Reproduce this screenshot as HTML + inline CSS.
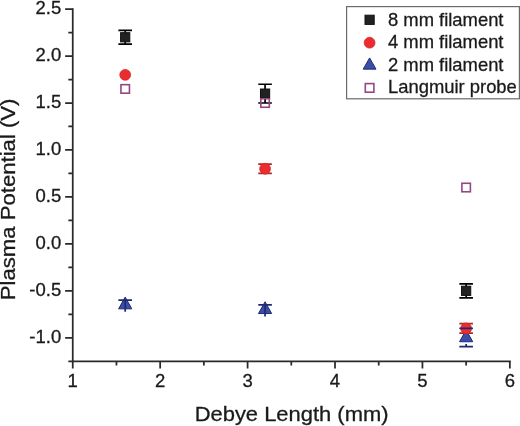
<!DOCTYPE html>
<html><head><meta charset="utf-8"><style>
html,body{margin:0;padding:0;background:#fff;}
body{width:520px;height:426px;overflow:hidden;}
svg{display:block;}
text{font-family:"Liberation Sans",Arial,sans-serif;fill:#1a1a1a;stroke:#1a1a1a;stroke-width:0.3px;}
</style></head><body>
<svg width="520" height="426" viewBox="0 0 520 426">
<path d="M72.75 8.2V361.2625H510.75" fill="none" stroke="#2a2a2a" stroke-width="1.75" stroke-linejoin="miter"/>
<path d="M65.15 9.10H72.75M65.15 56.05H72.75M65.15 103.01H72.75M65.15 149.97H72.75M65.15 196.92H72.75M65.15 243.87H72.75M65.15 290.83H72.75M65.15 337.79H72.75M68.35 32.58H72.75M68.35 79.53H72.75M68.35 126.49H72.75M68.35 173.44H72.75M68.35 220.40H72.75M68.35 267.35H72.75M68.35 314.31H72.75M68.35 361.26H72.75M72.75 361.2625V368.4625M160.17 361.2625V368.4625M247.59 361.2625V368.4625M335.01 361.2625V368.4625M422.43 361.2625V368.4625M509.85 361.2625V368.4625M116.46 361.2625V365.4625M203.88 361.2625V365.4625M291.30 361.2625V365.4625M378.72 361.2625V365.4625M466.14 361.2625V365.4625" fill="none" stroke="#2a2a2a" stroke-width="1.75"/>
<text x="61.2" y="14.10" text-anchor="end" font-size="18.5">2.5</text>
<text x="61.2" y="61.05" text-anchor="end" font-size="18.5">2.0</text>
<text x="61.2" y="108.01" text-anchor="end" font-size="18.5">1.5</text>
<text x="61.2" y="154.97" text-anchor="end" font-size="18.5">1.0</text>
<text x="61.2" y="201.92" text-anchor="end" font-size="18.5">0.5</text>
<text x="61.2" y="248.87" text-anchor="end" font-size="18.5">0.0</text>
<text x="61.2" y="295.83" text-anchor="end" font-size="18.5">-0.5</text>
<text x="61.2" y="342.79" text-anchor="end" font-size="18.5">-1.0</text>
<text x="72.75" y="387.3" text-anchor="middle" font-size="18.5">1</text>
<text x="160.17" y="387.3" text-anchor="middle" font-size="18.5">2</text>
<text x="247.59" y="387.3" text-anchor="middle" font-size="18.5">3</text>
<text x="335.01" y="387.3" text-anchor="middle" font-size="18.5">4</text>
<text x="422.43" y="387.3" text-anchor="middle" font-size="18.5">5</text>
<text x="509.85" y="387.3" text-anchor="middle" font-size="18.5">6</text>
<text x="291.6" y="420.6" text-anchor="middle" font-size="21" textLength="193.9" lengthAdjust="spacingAndGlyphs">Debye Length (mm)</text>
<text transform="translate(15.2 199.4) rotate(-90)" x="0" y="0" text-anchor="middle" font-size="21" textLength="201.8" lengthAdjust="spacingAndGlyphs">Plasma Potential (V)</text>
<path d="M125.20 30.42V44.13M118.40 30.42h13.6M118.40 44.13h13.6" fill="none" stroke="#000" stroke-width="1.7"/>
<path d="M265.07 84.23V103.01M258.27 84.23h13.6M258.27 103.01h13.6" fill="none" stroke="#000" stroke-width="1.7"/>
<path d="M466.14 283.79V297.87M459.34 283.79h13.6M459.34 297.87h13.6" fill="none" stroke="#000" stroke-width="1.7"/>
<rect x="120.60" y="32.67" width="9.2" height="9.2" fill="#222" stroke="#111" stroke-width="1.0"/>
<rect x="260.47" y="89.02" width="9.2" height="9.2" fill="#222" stroke="#111" stroke-width="1.0"/>
<rect x="461.54" y="286.23" width="9.2" height="9.2" fill="#222" stroke="#111" stroke-width="1.0"/>
<path d="M125.20 297.05L131.80 308.85L118.60 308.85Z" fill="#3a4ea8" stroke="#1f2a72" stroke-width="1" stroke-linejoin="miter"/>
<path d="M265.07 301.75L271.67 313.55L258.47 313.55Z" fill="#3a4ea8" stroke="#1f2a72" stroke-width="1" stroke-linejoin="miter"/>
<path d="M466.14 329.92L472.74 341.72L459.54 341.72Z" fill="#3a4ea8" stroke="#1f2a72" stroke-width="1" stroke-linejoin="miter"/>
<path d="M265.07 164.05V173.44M258.27 164.05h13.6M258.27 173.44h13.6" fill="none" stroke="#a82a2a" stroke-width="1.7"/>
<path d="M466.14 323.70V333.09M459.34 323.70h13.6M459.34 333.09h13.6" fill="none" stroke="#a82a2a" stroke-width="1.7"/>
<circle cx="125.20" cy="74.84" r="5.4" fill="#eb2d2f" stroke="#d62429" stroke-width="0.8"/>
<circle cx="265.07" cy="168.75" r="5.4" fill="#eb2d2f" stroke="#d62429" stroke-width="0.8"/>
<circle cx="466.14" cy="328.39" r="5.4" fill="#eb2d2f" stroke="#d62429" stroke-width="0.8"/>
<path d="M125.20 300.22V311.85M118.40 300.22h13.6" fill="none" stroke="#1f2a72" stroke-width="1.7"/>
<path d="M265.07 304.92V316.55M258.27 304.92h13.6" fill="none" stroke="#1f2a72" stroke-width="1.7"/>
<path d="M466.14 343.92V346.71M459.34 328.39h13.6M459.34 346.71h13.6" fill="none" stroke="#1f2a72" stroke-width="1.7"/>
<rect x="120.95" y="84.67" width="8.5" height="8.5" fill="none" stroke="#934784" stroke-width="1.6"/>
<rect x="260.82" y="98.76" width="8.5" height="8.5" fill="none" stroke="#934784" stroke-width="1.6"/>
<rect x="461.89" y="183.28" width="8.5" height="8.5" fill="none" stroke="#934784" stroke-width="1.6"/>
<rect x="346.6" y="6.6" width="172.8" height="92.2" fill="#fff" stroke="#6a6a6a" stroke-width="1.2"/>
<rect x="365.00" y="15.20" width="9.2" height="9.2" fill="#222" stroke="#111" stroke-width="1.0"/>
<circle cx="369.60" cy="42.70" r="5.4" fill="#eb2d2f" stroke="#d62429" stroke-width="0.8"/>
<path d="M369.60 57.93L376.00 69.13L363.20 69.13Z" fill="#3a4ea8" stroke="#1f2a72" stroke-width="1" stroke-linejoin="miter"/>
<rect x="365.30" y="83.60" width="8.6" height="8.6" fill="#fff" stroke="#934784" stroke-width="1.6"/>
<text x="388.0" y="25.8" font-size="18.4">8 mm filament</text>
<text x="388.0" y="48.3" font-size="18.4">4 mm filament</text>
<text x="388.0" y="70.9" font-size="18.4">2 mm filament</text>
<text x="388.0" y="93.4" font-size="18.4">Langmuir probe</text>
</svg>
</body></html>
